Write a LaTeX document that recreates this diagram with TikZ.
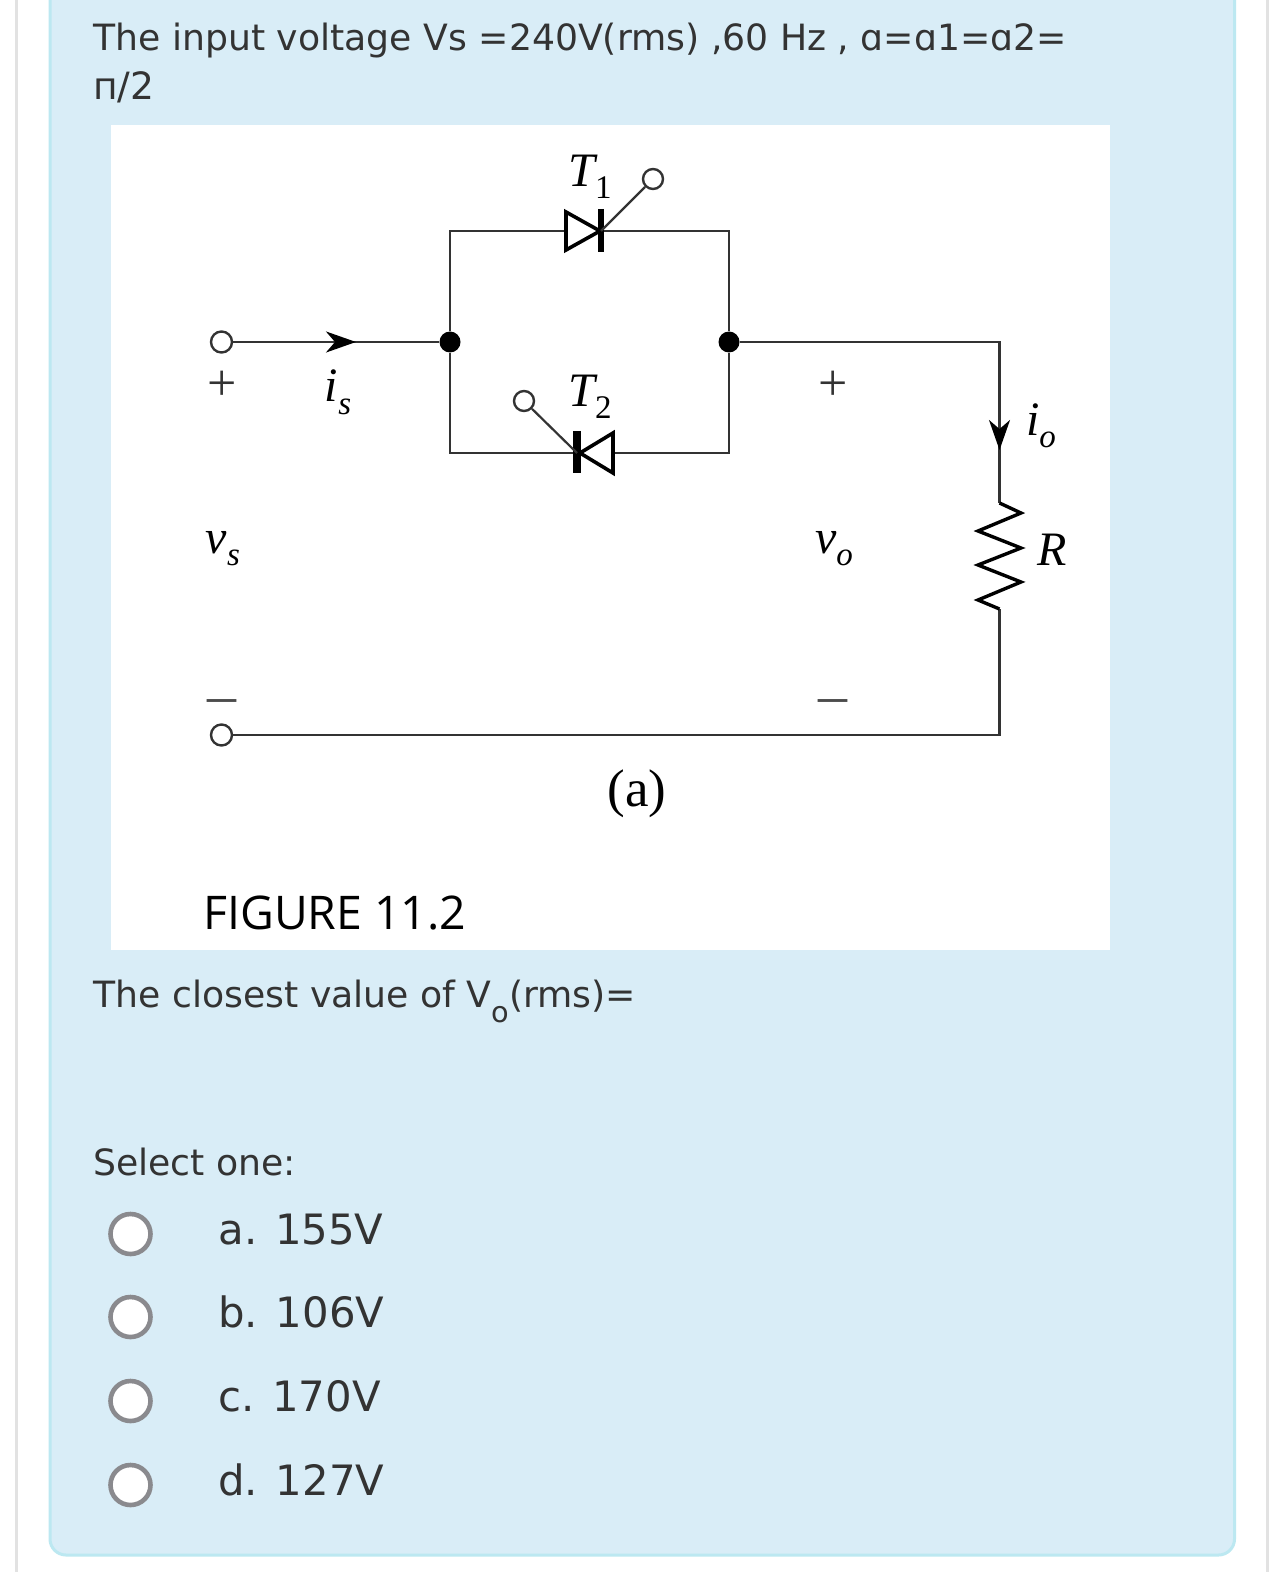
\documentclass[tikz,border=0pt]{standalone}
\usepackage{fontspec}
\usepackage{tikz}
\usetikzlibrary{arrows.meta}
\setmainfont{DejaVu Sans}
\newfontfamily\circuitfont{Liberation Serif}
\newfontfamily\figurefont{Open Sans}
\definecolor{panelfill}{HTML}{D9EDF7}
\definecolor{panelline}{HTML}{BCE8F1}
\definecolor{pagerule}{HTML}{E2E2E2}
\definecolor{bodytext}{HTML}{333333}
\definecolor{radioline}{HTML}{8A8A8E}
\definecolor{wirecolor}{HTML}{333333}
\newcommand{\subtext}[2]{{\itshape #1}\raisebox{-0.25em}{\fontsize{16.5}{16}\selectfont #2}}
\tikzset{
  wire/.style={wirecolor, line width=1.1pt},
  bodylabel/.style={anchor=base west, inner sep=0pt, text=bodytext, font=\fontsize{18.1}{23}\selectfont},
  circuitlabel/.style={anchor=base, inner sep=0pt, text=black, font=\circuitfont\fontsize{24}{28}\selectfont},
  signlabel/.style={circuitlabel, text=black!80, font=\circuitfont\fontsize{26}{30}\selectfont},
  dashlabel/.style={circuitlabel, text=black!70, font=\circuitfont\fontsize{29}{30}\selectfont},
  terminal/.style={circle, draw=wirecolor, fill=white, line width=1.2pt, minimum size=10.5pt, inner sep=0pt},
  junction/.style={circle, fill=black, minimum size=10.5pt, inner sep=0pt},
  radio/.style={circle, draw=radioline, fill=white, line width=2.3pt, minimum size=20pt, inner sep=0pt},
  flowtip/.style={-{Stealth[length=15pt, width=10.5pt, inset=4.5pt, color=black]}}
}
\begin{document}
\begin{tikzpicture}[x=0.5pt, y=-0.5pt]
\useasboundingbox (0,0) rectangle (1284,1572);

% page and panel
\fill[white] (0,0) rectangle (1284,1572);
\fill[pagerule] (15,0) rectangle (18,1572);
\fill[pagerule] (1266,0) rectangle (1269,1572);
\draw[panelline, fill=panelfill, line width=1.5pt, rounded corners=8pt] (50,-20) rectangle (1234.5,1555);
\fill[white] (111,125) rectangle (1110,950);

% question
\node[bodylabel] (question1) at (93,51) {The input voltage Vs =240V(rms) ,60 Hz , ɑ=ɑ1=ɑ2=};
\node[bodylabel, font=\fontsize{18.8}{23}\selectfont] (question2) at (93,100) {п/2};
\node[bodylabel] (closest) at (93,1007) {The closest value of V\raisebox{-0.42em}{\fontsize{14.4}{16}\selectfont o}(rms)=};
\node[bodylabel] (selectone) at (93,1175) {Select one:};

% circuit
\node[terminal] (vsplus) at (221.5,342) {};
\node[terminal] (vsminus) at (221.5,735) {};
\node[junction] (junL) at (450,342) {};
\node[junction] (junR) at (729,342) {};
\coordinate (topL) at (450,231);
\coordinate (topR) at (729,231);
\coordinate (botL) at (450,453);
\coordinate (botR) at (729,453);
\coordinate (cornerR) at (999.5,342);
\coordinate (cornerB) at (999.5,735);
\coordinate (tipS) at (356,342);
\coordinate (tipO) at (999.5,450);
\coordinate (resTop) at (999.5,503);
\coordinate (resBot) at (999.5,609);
\coordinate (anodeA) at (566,231);
\coordinate (cathodeA) at (601,231);
\coordinate (anodeB) at (613,453);
\coordinate (cathodeB) at (577,453);
\node[terminal, minimum size=10pt] (gateA) at (653,179) {};
\node[terminal, minimum size=10pt] (gateB) at (524,401) {};

\draw[wire] (vsplus) -- (junL);
\draw[wire, flowtip] (vsplus) -- (tipS);
\draw[wire] (junL) -- (topL) -- (anodeA);
\draw[wire] (cathodeA) -- (topR) -- (junR);
\draw[wire] (junL) -- (botL) -- (cathodeB);
\draw[wire] (anodeB) -- (botR) -- (junR);
\draw[wire] (junR) -- (cornerR) -- (resTop);
\draw[wire, flowtip] (cornerR) -- (tipO);
\draw[wire] (resBot) -- (cornerB) -- (vsminus);

% T1
\draw[black, line width=1.8pt, fill=white, line join=miter] (566,212) --++(34,19)--++(-34,19)--cycle;
\draw[black, line width=2.8pt] (601,209) --++(0,43);
\draw[wire] (cathodeA) -- (gateA);
% T2
\draw[black, line width=1.8pt, fill=white, line join=miter] (613,433) --++(-33,20)--++(33,20)--cycle;
\draw[black, line width=3.6pt] (577,431) --++(0,42);
\draw[wire] (cathodeB) -- (gateB);
% resistor
\draw[black, line width=1.7pt, line join=miter] (resTop) --++(21.5,10)--++(-43,18)--++(43,17)--++(-43,17)--++(43,17)--++(-43,18)--(resBot);

% circuit labels
\node[circuitlabel] (labT1) at (590,187) {\subtext{T}{1}};
\node[circuitlabel] (labT2) at (590,407) {\subtext{T}{2}};
\node[circuitlabel] (labIs) at (338,402) {\subtext{i}{\itshape s}};
\node[circuitlabel] (labIo) at (1041,436) {\subtext{i}{\itshape o}};
\node[circuitlabel] (labVs) at (223,553) {\subtext{v}{\itshape s}};
\node[circuitlabel] (labVo) at (834,553) {\subtext{v}{\itshape o}};
\node[circuitlabel] (labR) at (1052,565) {\itshape R};
\node[signlabel] (plusS) at (222,401) {+};
\node[signlabel] (plusO) at (833,401) {+};
\node[dashlabel] (minusS) at (221.5,714) {–};
\node[dashlabel] (minusO) at (833,714) {–};
\node[circuitlabel, font=\circuitfont\fontsize{26.5}{30}\selectfont] (labA) at (637,806) {(a)};
\node[anchor=base west, inner sep=0pt, text=black, font=\figurefont\fontsize{23.2}{27}\selectfont] (figlabel) at (203,929) {FIGURE 11.2};

% choices
\foreach \name/\ypos/\answer in {a/1234/a. 155V, b/1317/b. 106V, c/1401/c. 170V, d/1485/d. 127V}{
  \node[radio] (radio\name) at (130.5,\ypos) {};
  \node[bodylabel, font=\fontsize{20.9}{25}\selectfont, anchor=base west] (answer\name) at (218,\ypos+10) {\answer};
}

\end{tikzpicture}
\end{document}
